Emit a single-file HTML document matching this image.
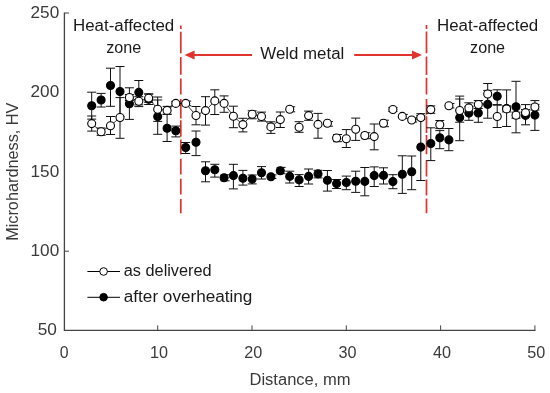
<!DOCTYPE html>
<html lang="en"><head><meta charset="utf-8"><title>Microhardness vs distance</title>
<style>html,body{margin:0;padding:0;background:#fff}svg{display:block}</style></head>
<body>
<svg width="550" height="393" viewBox="0 0 550 393" font-family="'Liberation Sans', sans-serif">
<rect width="550" height="393" fill="#fff"/>
<path d="M64.4 12.4V330.4H535.5" fill="none" stroke="#454545" stroke-width="1.3"/>
<path d="M64.4 13.0H69M64.4 251.2H69M157.7 330.4V325.4M252.0 330.4V325.4M346.3 330.4V325.4M440.6 330.4V325.4M534.9 330.4V325.4" fill="none" stroke="#454545" stroke-width="1"/>
<text x="59.2" y="17.5" text-anchor="end" fill="#3a3a3a" font-size="16" textLength="28.6" lengthAdjust="spacingAndGlyphs">250</text>
<text x="59.2" y="96.7" text-anchor="end" fill="#3a3a3a" font-size="16" textLength="28.6" lengthAdjust="spacingAndGlyphs">200</text>
<text x="59.2" y="177.0" text-anchor="end" fill="#3a3a3a" font-size="16" textLength="28.6" lengthAdjust="spacingAndGlyphs">150</text>
<text x="59.2" y="256.1" text-anchor="end" fill="#3a3a3a" font-size="16" textLength="28.6" lengthAdjust="spacingAndGlyphs">100</text>
<text x="56.9" y="335.2" text-anchor="end" fill="#3a3a3a" font-size="16" textLength="19.2" lengthAdjust="spacingAndGlyphs">50</text>
<text x="64.1" y="357.8" text-anchor="middle" fill="#3a3a3a" font-size="16" textLength="8.8" lengthAdjust="spacingAndGlyphs">0</text>
<text x="159.0" y="357.8" text-anchor="middle" fill="#3a3a3a" font-size="16" textLength="18.0" lengthAdjust="spacingAndGlyphs">10</text>
<text x="253.3" y="357.8" text-anchor="middle" fill="#3a3a3a" font-size="16" textLength="18.0" lengthAdjust="spacingAndGlyphs">20</text>
<text x="347.6" y="357.8" text-anchor="middle" fill="#3a3a3a" font-size="16" textLength="18.0" lengthAdjust="spacingAndGlyphs">30</text>
<text x="441.9" y="357.8" text-anchor="middle" fill="#3a3a3a" font-size="16" textLength="18.0" lengthAdjust="spacingAndGlyphs">40</text>
<text x="536.2" y="357.8" text-anchor="middle" fill="#3a3a3a" font-size="16" textLength="18.0" lengthAdjust="spacingAndGlyphs">50</text>
<text x="300.0" y="384.6" text-anchor="middle" fill="#3a3a3a" font-size="16" textLength="101" lengthAdjust="spacingAndGlyphs">Distance, mm</text>
<text transform="translate(18.2 171.7) rotate(-90)" text-anchor="middle" fill="#3a3a3a" font-size="16" textLength="138.3" lengthAdjust="spacingAndGlyphs">Microhardness, HV</text>
<path d="M180.8 25.4V29M180.8 31.8V53.2M180.8 57V74.8M180.8 78.6V94.6M180.8 98.9V118.4M180.8 120.2V136.8M180.8 139.4V154.4M180.8 158.7V174.5M180.8 178.7V194.6M180.8 199.1V213.3" stroke="#e0332e" stroke-width="1.7" fill="none"/>
<path d="M426.5 25V28.9M426.5 31.5V53.3M426.5 56.6V75M426.5 77.7V94.6M426.5 98.9V114.7M426.5 116.2V133.1M426.5 135V154.2M426.5 160.3V176.5M426.5 179.6V195.6M426.5 198.6V213.2" stroke="#e0332e" stroke-width="1.7" fill="none"/>
<path d="M193 55H252M354.2 55H413" stroke="#e0332e" stroke-width="1.8" fill="none"/>
<path d="M184.6 55L194.6 50.6V59.4ZM422 55L412 50.6V59.4Z" fill="#e0332e"/>
<text x="123.6" y="31.2" text-anchor="middle" fill="#1a1a1a" font-size="16" textLength="101.2" lengthAdjust="spacingAndGlyphs">Heat-affected</text>
<text x="123.8" y="53.0" text-anchor="middle" fill="#1a1a1a" font-size="16" textLength="35" lengthAdjust="spacingAndGlyphs">zone</text>
<text x="487.6" y="31.2" text-anchor="middle" fill="#1a1a1a" font-size="16" textLength="101.2" lengthAdjust="spacingAndGlyphs">Heat-affected</text>
<text x="487.6" y="53.0" text-anchor="middle" fill="#1a1a1a" font-size="16" textLength="35" lengthAdjust="spacingAndGlyphs">zone</text>
<text x="302.3" y="58.8" text-anchor="middle" fill="#1a1a1a" font-size="16" textLength="84" lengthAdjust="spacingAndGlyphs">Weld metal</text>
<path d="M91.7 92.2V119.1M87.2 92.2H96.2M87.2 119.1H96.2M101.1 93.4V107.0M96.6 93.4H105.6M96.6 107.0H105.6M110.5 68.2V106.3M106.0 68.2H115.0M106.0 106.3H115.0M120.0 66.5V116.5M115.5 66.5H124.5M115.5 116.5H124.5M129.4 87.8V119.4M124.9 87.8H133.9M124.9 119.4H133.9M138.8 80.5V104.9M134.3 80.5H143.3M134.3 104.9H143.3M148.7 93.9V104.5M144.2 93.9H153.2M144.2 104.5H153.2M157.7 100.0V134.3M153.2 100.0H162.2M153.2 134.3H162.2M167.1 114.4V141.5M162.6 114.4H171.6M162.6 141.5H171.6M175.8 126.1V136.9M171.3 126.1H180.3M171.3 136.9H180.3M185.7 142.5V153.5M181.2 142.5H190.2M181.2 153.5H190.2M196.0 131.0V155.6M191.5 131.0H200.5M191.5 155.6H200.5M205.5 161.8V181.8M201.0 161.8H210.0M201.0 181.8H210.0M214.8 164.3V177.1M210.3 164.3H219.3M210.3 177.1H219.3M225.1 174.8V180.8M220.6 174.8H229.6M220.6 180.8H229.6M233.4 164.3V188.9M228.9 164.3H237.9M228.9 188.9H237.9M242.9 170.4V185.1M238.4 170.4H247.4M238.4 185.1H247.4M252.2 175.0V183.9M247.7 175.0H256.7M247.7 183.9H256.7M261.5 166.6V179.0M257.0 166.6H266.0M257.0 179.0H266.0M271.9 174.9V178.5M267.4 174.9H276.4M267.4 178.5H276.4M281.1 167.4V173.7M276.6 167.4H285.6M276.6 173.7H285.6M289.7 171.2V183.0M285.2 171.2H294.2M285.2 183.0H294.2M299.1 174.6V186.5M294.6 174.6H303.6M294.6 186.5H303.6M308.6 169.0V184.0M304.1 169.0H313.1M304.1 184.0H313.1M318.0 170.3V177.9M313.5 170.3H322.5M313.5 177.9H322.5M327.4 170.5V191.1M322.9 170.5H331.9M322.9 191.1H331.9M336.6 179.5V188.5M332.1 179.5H341.1M332.1 188.5H341.1M346.3 176.1V189.7M341.8 176.1H350.8M341.8 189.7H350.8M355.7 171.2V192.4M351.2 171.2H360.2M351.2 192.4H360.2M364.8 167.5V195.8M360.3 167.5H369.3M360.3 195.8H369.3M374.2 166.9V186.5M369.7 166.9H378.7M369.7 186.5H378.7M383.5 167.8V184.0M379.0 167.8H388.0M379.0 184.0H388.0M392.9 174.7V188.7M388.4 174.7H397.4M388.4 188.7H397.4M402.3 155.8V193.4M397.8 155.8H406.8M397.8 193.4H406.8M411.7 156.0V189.7M407.2 156.0H416.2M407.2 189.7H416.2M420.8 113.7V180.5M416.3 113.7H425.3M416.3 180.5H425.3M430.8 127.8V160.6M426.3 127.8H435.3M426.3 160.6H435.3M439.8 130.6V148.7M435.3 130.6H444.3M435.3 148.7H444.3M448.9 128.5V150.7M444.4 128.5H453.4M444.4 150.7H453.4M459.7 96.1V140.7M455.2 96.1H464.2M455.2 140.7H464.2M468.9 106.4V120.3M464.4 106.4H473.4M464.4 120.3H473.4M478.3 103.5V122.3M473.8 103.5H482.8M473.8 122.3H482.8M487.7 90.4V118.2M483.2 90.4H492.2M483.2 118.2H492.2M497.2 89.8V104.6M492.7 89.8H501.7M492.7 104.6H501.7M506.6 89.9V126.5M502.1 89.9H511.1M502.1 126.5H511.1M516.0 81.3V132.8M511.5 81.3H520.5M511.5 132.8H520.5M525.5 104.6V124.8M521.0 104.6H530.0M521.0 124.8H530.0M534.9 100.6V130.4M530.4 100.6H539.4M530.4 130.4H539.4" fill="none" stroke="#111" stroke-width="1"/>
<circle cx="91.7" cy="105.7" r="4.0" fill="#000" stroke="#000" stroke-width="1.1"/>
<circle cx="101.1" cy="100.0" r="4.0" fill="#000" stroke="#000" stroke-width="1.1"/>
<circle cx="110.5" cy="85.5" r="4.0" fill="#000" stroke="#000" stroke-width="1.1"/>
<circle cx="120.0" cy="91.5" r="4.0" fill="#000" stroke="#000" stroke-width="1.1"/>
<circle cx="129.4" cy="103.8" r="4.0" fill="#000" stroke="#000" stroke-width="1.1"/>
<circle cx="138.8" cy="92.4" r="4.0" fill="#000" stroke="#000" stroke-width="1.1"/>
<circle cx="148.7" cy="99.2" r="4.0" fill="#000" stroke="#000" stroke-width="1.1"/>
<circle cx="157.7" cy="116.6" r="4.0" fill="#000" stroke="#000" stroke-width="1.1"/>
<circle cx="167.1" cy="128.3" r="4.0" fill="#000" stroke="#000" stroke-width="1.1"/>
<circle cx="175.8" cy="130.7" r="4.0" fill="#000" stroke="#000" stroke-width="1.1"/>
<circle cx="185.7" cy="147.5" r="4.0" fill="#000" stroke="#000" stroke-width="1.1"/>
<circle cx="196.0" cy="142.2" r="4.0" fill="#000" stroke="#000" stroke-width="1.1"/>
<circle cx="205.5" cy="170.7" r="4.0" fill="#000" stroke="#000" stroke-width="1.1"/>
<circle cx="214.8" cy="169.7" r="4.0" fill="#000" stroke="#000" stroke-width="1.1"/>
<circle cx="224.1" cy="177.8" r="4.0" fill="#000" stroke="#000" stroke-width="1.1"/>
<circle cx="233.4" cy="175.6" r="4.0" fill="#000" stroke="#000" stroke-width="1.1"/>
<circle cx="242.9" cy="178.2" r="4.0" fill="#000" stroke="#000" stroke-width="1.1"/>
<circle cx="252.2" cy="179.1" r="4.0" fill="#000" stroke="#000" stroke-width="1.1"/>
<circle cx="261.5" cy="172.8" r="4.0" fill="#000" stroke="#000" stroke-width="1.1"/>
<circle cx="270.9" cy="176.7" r="4.0" fill="#000" stroke="#000" stroke-width="1.1"/>
<circle cx="280.3" cy="170.7" r="4.0" fill="#000" stroke="#000" stroke-width="1.1"/>
<circle cx="289.7" cy="176.4" r="4.0" fill="#000" stroke="#000" stroke-width="1.1"/>
<circle cx="299.1" cy="179.9" r="4.0" fill="#000" stroke="#000" stroke-width="1.1"/>
<circle cx="308.6" cy="176.4" r="4.0" fill="#000" stroke="#000" stroke-width="1.1"/>
<circle cx="318.0" cy="173.9" r="4.0" fill="#000" stroke="#000" stroke-width="1.1"/>
<circle cx="327.4" cy="180.3" r="4.0" fill="#000" stroke="#000" stroke-width="1.1"/>
<circle cx="336.6" cy="183.6" r="4.0" fill="#000" stroke="#000" stroke-width="1.1"/>
<circle cx="346.3" cy="182.5" r="4.0" fill="#000" stroke="#000" stroke-width="1.1"/>
<circle cx="355.7" cy="181.2" r="4.0" fill="#000" stroke="#000" stroke-width="1.1"/>
<circle cx="364.8" cy="181.4" r="4.0" fill="#000" stroke="#000" stroke-width="1.1"/>
<circle cx="374.2" cy="175.6" r="4.0" fill="#000" stroke="#000" stroke-width="1.1"/>
<circle cx="383.5" cy="175.4" r="4.0" fill="#000" stroke="#000" stroke-width="1.1"/>
<circle cx="392.9" cy="181.6" r="4.0" fill="#000" stroke="#000" stroke-width="1.1"/>
<circle cx="402.3" cy="174.2" r="4.0" fill="#000" stroke="#000" stroke-width="1.1"/>
<circle cx="411.7" cy="171.8" r="4.0" fill="#000" stroke="#000" stroke-width="1.1"/>
<circle cx="420.8" cy="147.1" r="4.0" fill="#000" stroke="#000" stroke-width="1.1"/>
<circle cx="430.8" cy="143.5" r="4.0" fill="#000" stroke="#000" stroke-width="1.1"/>
<circle cx="439.8" cy="137.7" r="4.0" fill="#000" stroke="#000" stroke-width="1.1"/>
<circle cx="448.9" cy="139.9" r="4.0" fill="#000" stroke="#000" stroke-width="1.1"/>
<circle cx="459.7" cy="117.6" r="4.0" fill="#000" stroke="#000" stroke-width="1.1"/>
<circle cx="468.9" cy="113.1" r="4.0" fill="#000" stroke="#000" stroke-width="1.1"/>
<circle cx="478.3" cy="113.0" r="4.0" fill="#000" stroke="#000" stroke-width="1.1"/>
<circle cx="487.7" cy="104.4" r="4.0" fill="#000" stroke="#000" stroke-width="1.1"/>
<circle cx="497.2" cy="96.3" r="4.0" fill="#000" stroke="#000" stroke-width="1.1"/>
<circle cx="506.6" cy="108.5" r="4.0" fill="#000" stroke="#000" stroke-width="1.1"/>
<circle cx="516.0" cy="106.8" r="4.0" fill="#000" stroke="#000" stroke-width="1.1"/>
<circle cx="525.5" cy="115.4" r="4.0" fill="#000" stroke="#000" stroke-width="1.1"/>
<circle cx="534.9" cy="115.1" r="4.0" fill="#000" stroke="#000" stroke-width="1.1"/>
<path d="M91.7 123.6 L101.1 131.7 L110.5 125.7 L120.0 117.5M129.4 97.5 L138.8 101.2 L148.7 98.1 L157.7 109.2 L167.1 110.4 L175.8 103.4 L185.7 103.4 L196.0 115.5 L205.5 110.6 L214.8 100.9 L224.1 103.4 L233.4 116.2 L242.9 124.6 L252.2 114.2 L261.5 116.5 L270.9 126.9 L280.3 119.6" fill="none" stroke="#000" stroke-width="0.8"/>
<path d="M91.7 116.0V131.1M87.2 116.0H96.2M87.2 131.1H96.2M101.1 128.0V135.3M96.6 128.0H105.6M96.6 135.3H105.6M110.5 116.5V134.5M106.0 116.5H115.0M106.0 134.5H115.0M120.0 97.6V138.3M115.5 97.6H124.5M115.5 138.3H124.5M129.4 94.5V100.5M124.9 94.5H133.9M124.9 100.5H133.9M138.8 96.7V106.6M134.3 96.7H143.3M134.3 106.6H143.3M148.7 94.1V102.3M144.2 94.1H153.2M144.2 102.3H153.2M157.7 97.0V121.4M153.2 97.0H162.2M153.2 121.4H162.2M167.1 106.4V114.2M162.6 106.4H171.6M162.6 114.2H171.6M175.8 101.4V105.4M171.3 101.4H180.3M171.3 105.4H180.3M186.7 101.1V105.7M182.2 101.1H191.2M182.2 105.7H191.2M196.0 106.5V124.8M191.5 106.5H200.5M191.5 124.8H200.5M205.5 96.7V125.1M201.0 96.7H210.0M201.0 125.1H210.0M214.8 89.8V114.5M210.3 89.8H219.3M210.3 114.5H219.3M224.1 95.9V112.3M219.6 95.9H228.6M219.6 112.3H228.6M233.4 106.2V127.7M228.9 106.2H237.9M228.9 127.7H237.9M242.9 118.3V131.9M238.4 118.3H247.4M238.4 131.9H247.4M252.2 110.8V118.8M247.7 110.8H256.7M247.7 118.8H256.7M261.5 112.1V121.1M257.0 112.1H266.0M257.0 121.1H266.0M270.9 121.8V133.4M266.4 121.8H275.4M266.4 133.4H275.4M280.3 112.0V127.5M275.8 112.0H284.8M275.8 127.5H284.8M290.7 106.8V111.8M286.2 106.8H295.2M286.2 111.8H295.2M299.1 121.7V132.3M294.6 121.7H303.6M294.6 132.3H303.6M308.6 111.1V120.3M304.1 111.1H313.1M304.1 120.3H313.1M318.0 113.4V138.2M313.5 113.4H322.5M313.5 138.2H322.5M328.4 121.5V126.2M323.9 121.5H332.9M323.9 126.2H332.9M337.6 134.5V141.7M333.1 134.5H342.1M333.1 141.7H342.1M346.3 129.6V147.5M341.8 129.6H350.8M341.8 147.5H350.8M355.7 118.1V140.4M351.2 118.1H360.2M351.2 140.4H360.2M365.8 132.7V138.7M361.3 132.7H370.3M361.3 138.7H370.3M374.2 124.0V149.8M369.7 124.0H378.7M369.7 149.8H378.7M384.5 120.2V126.7M380.0 120.2H389.0M380.0 126.7H389.0M392.9 107.5V111.5M388.4 107.5H397.4M388.4 111.5H397.4M403.3 114.4V118.4M398.8 114.4H407.8M398.8 118.4H407.8M412.7 118.0V122.0M408.2 118.0H417.2M408.2 122.0H417.2M420.8 115.6V119.6M416.3 115.6H425.3M416.3 119.6H425.3M430.8 105.9V113.3M426.3 105.9H435.3M426.3 113.3H435.3M439.8 120.5V128.6M435.3 120.5H444.3M435.3 128.6H444.3M449.9 103.5V107.9M445.4 103.5H454.4M445.4 107.9H454.4M459.7 99.0V122.2M455.2 99.0H464.2M455.2 122.2H464.2M468.9 102.8V112.9M464.4 102.8H473.4M464.4 112.9H473.4M478.3 100.5V108.5M473.8 100.5H482.8M473.8 108.5H482.8M487.7 83.5V104.0M483.2 83.5H492.2M483.2 104.0H492.2M497.2 105.2V127.5M492.7 105.2H501.7M492.7 127.5H501.7M506.6 105.9V111.9M502.1 105.9H511.1M502.1 111.9H511.1M516.0 112.2V118.2M511.5 112.2H520.5M511.5 118.2H520.5M525.5 109.6V115.6M521.0 109.6H530.0M521.0 115.6H530.0M534.9 104.4V110.0M530.4 104.4H539.4M530.4 110.0H539.4" fill="none" stroke="#111" stroke-width="1"/>
<circle cx="91.7" cy="123.6" r="4.0" fill="#fff" stroke="#000" stroke-width="1.1"/>
<circle cx="101.1" cy="131.7" r="4.0" fill="#fff" stroke="#000" stroke-width="1.1"/>
<circle cx="110.5" cy="125.7" r="4.0" fill="#fff" stroke="#000" stroke-width="1.1"/>
<circle cx="120.0" cy="117.5" r="4.0" fill="#fff" stroke="#000" stroke-width="1.1"/>
<circle cx="129.4" cy="97.5" r="4.0" fill="#fff" stroke="#000" stroke-width="1.1"/>
<circle cx="138.8" cy="101.2" r="4.0" fill="#fff" stroke="#000" stroke-width="1.1"/>
<circle cx="148.7" cy="98.1" r="4.0" fill="#fff" stroke="#000" stroke-width="1.1"/>
<circle cx="157.7" cy="109.2" r="4.0" fill="#fff" stroke="#000" stroke-width="1.1"/>
<circle cx="167.1" cy="110.4" r="4.0" fill="#fff" stroke="#000" stroke-width="1.1"/>
<circle cx="175.8" cy="103.4" r="4.0" fill="#fff" stroke="#000" stroke-width="1.1"/>
<circle cx="185.7" cy="103.4" r="4.0" fill="#fff" stroke="#000" stroke-width="1.1"/>
<circle cx="196.0" cy="115.5" r="4.0" fill="#fff" stroke="#000" stroke-width="1.1"/>
<circle cx="205.5" cy="110.6" r="4.0" fill="#fff" stroke="#000" stroke-width="1.1"/>
<circle cx="214.8" cy="100.9" r="4.0" fill="#fff" stroke="#000" stroke-width="1.1"/>
<circle cx="224.1" cy="103.4" r="4.0" fill="#fff" stroke="#000" stroke-width="1.1"/>
<circle cx="233.4" cy="116.2" r="4.0" fill="#fff" stroke="#000" stroke-width="1.1"/>
<circle cx="242.9" cy="124.6" r="4.0" fill="#fff" stroke="#000" stroke-width="1.1"/>
<circle cx="252.2" cy="114.2" r="4.0" fill="#fff" stroke="#000" stroke-width="1.1"/>
<circle cx="261.5" cy="116.5" r="4.0" fill="#fff" stroke="#000" stroke-width="1.1"/>
<circle cx="270.9" cy="126.9" r="4.0" fill="#fff" stroke="#000" stroke-width="1.1"/>
<circle cx="280.3" cy="119.6" r="4.0" fill="#fff" stroke="#000" stroke-width="1.1"/>
<circle cx="289.7" cy="109.3" r="4.0" fill="#fff" stroke="#000" stroke-width="1.1"/>
<circle cx="299.1" cy="127.2" r="4.0" fill="#fff" stroke="#000" stroke-width="1.1"/>
<circle cx="308.6" cy="115.6" r="4.0" fill="#fff" stroke="#000" stroke-width="1.1"/>
<circle cx="318.0" cy="124.4" r="4.0" fill="#fff" stroke="#000" stroke-width="1.1"/>
<circle cx="327.4" cy="123.3" r="4.0" fill="#fff" stroke="#000" stroke-width="1.1"/>
<circle cx="336.6" cy="138.0" r="4.0" fill="#fff" stroke="#000" stroke-width="1.1"/>
<circle cx="346.3" cy="138.7" r="4.0" fill="#fff" stroke="#000" stroke-width="1.1"/>
<circle cx="355.7" cy="129.3" r="4.0" fill="#fff" stroke="#000" stroke-width="1.1"/>
<circle cx="364.8" cy="135.5" r="4.0" fill="#fff" stroke="#000" stroke-width="1.1"/>
<circle cx="374.2" cy="136.6" r="4.0" fill="#fff" stroke="#000" stroke-width="1.1"/>
<circle cx="383.5" cy="123.2" r="4.0" fill="#fff" stroke="#000" stroke-width="1.1"/>
<circle cx="392.9" cy="109.5" r="4.0" fill="#fff" stroke="#000" stroke-width="1.1"/>
<circle cx="402.3" cy="116.4" r="4.0" fill="#fff" stroke="#000" stroke-width="1.1"/>
<circle cx="411.7" cy="120.0" r="4.0" fill="#fff" stroke="#000" stroke-width="1.1"/>
<circle cx="420.8" cy="117.6" r="4.0" fill="#fff" stroke="#000" stroke-width="1.1"/>
<circle cx="430.8" cy="109.6" r="4.0" fill="#fff" stroke="#000" stroke-width="1.1"/>
<circle cx="439.8" cy="124.8" r="4.0" fill="#fff" stroke="#000" stroke-width="1.1"/>
<circle cx="448.9" cy="105.7" r="4.0" fill="#fff" stroke="#000" stroke-width="1.1"/>
<circle cx="459.7" cy="110.5" r="4.0" fill="#fff" stroke="#000" stroke-width="1.1"/>
<circle cx="468.9" cy="107.9" r="4.0" fill="#fff" stroke="#000" stroke-width="1.1"/>
<circle cx="478.3" cy="104.5" r="4.0" fill="#fff" stroke="#000" stroke-width="1.1"/>
<circle cx="487.7" cy="94.0" r="4.0" fill="#fff" stroke="#000" stroke-width="1.1"/>
<circle cx="497.2" cy="116.5" r="4.0" fill="#fff" stroke="#000" stroke-width="1.1"/>
<circle cx="506.6" cy="108.9" r="4.0" fill="#fff" stroke="#000" stroke-width="1.1"/>
<circle cx="516.0" cy="115.2" r="4.0" fill="#fff" stroke="#000" stroke-width="1.1"/>
<circle cx="525.5" cy="112.6" r="4.0" fill="#fff" stroke="#000" stroke-width="1.1"/>
<circle cx="534.9" cy="107.0" r="4.0" fill="#fff" stroke="#000" stroke-width="1.1"/>
<path d="M87.4 271.5H120M87.4 297.3H120" stroke="#000" stroke-width="1" fill="none"/>
<circle cx="103.6" cy="271.5" r="3.8" fill="#fff" stroke="#000" stroke-width="1"/>
<circle cx="103.6" cy="297.2" r="3.8" fill="#000" stroke="#000" stroke-width="1"/>
<text x="123.8" y="276" text-anchor="start" fill="#1a1a1a" font-size="16" textLength="87.8" lengthAdjust="spacingAndGlyphs">as delivered</text>
<text x="123.8" y="301.5" text-anchor="start" fill="#1a1a1a" font-size="16" textLength="128.6" lengthAdjust="spacingAndGlyphs">after overheating</text>
</svg>
</body></html>
